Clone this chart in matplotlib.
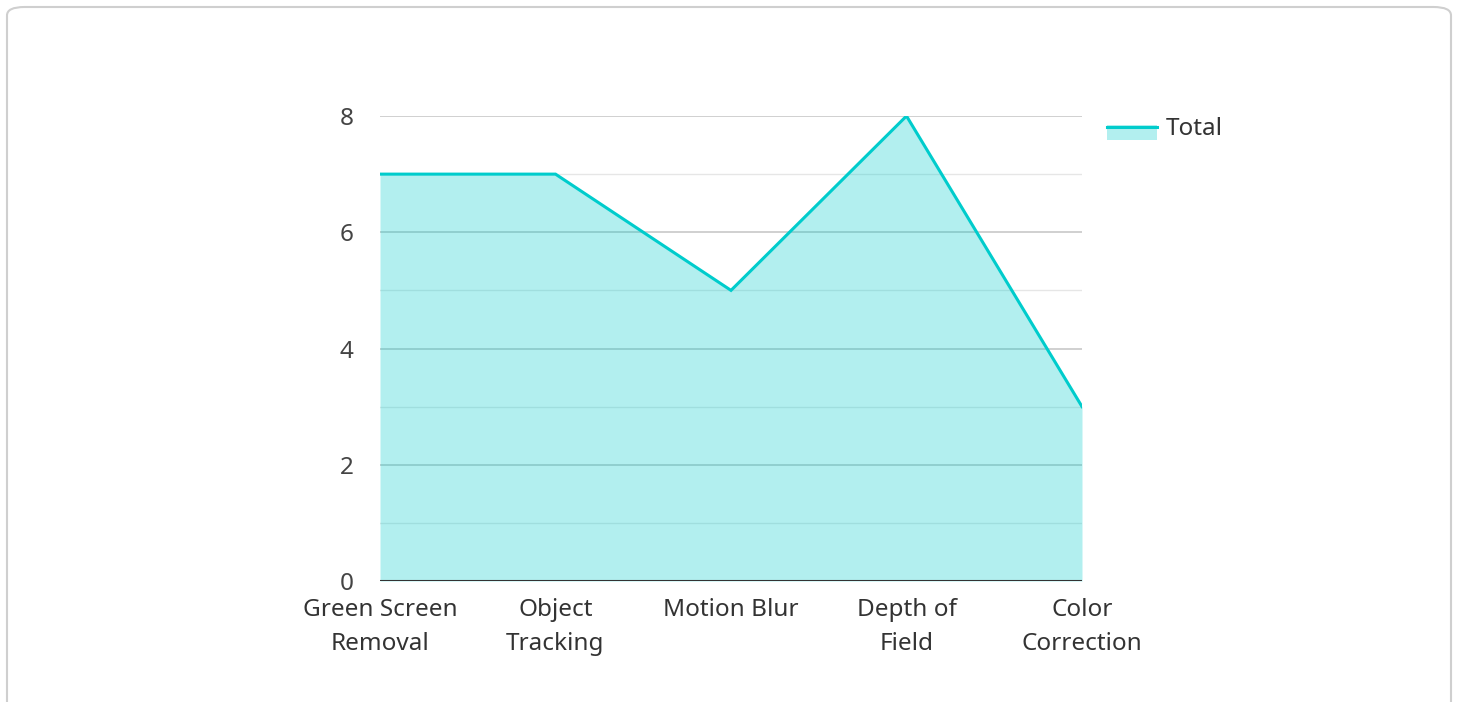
import matplotlib
matplotlib.use("Agg")
import matplotlib.pyplot as plt
from matplotlib.patches import FancyBboxPatch, Rectangle
from matplotlib.lines import Line2D

plt.rcParams['font.family'] = ['Noto Sans', 'DejaVu Sans']

categories = ["Green Screen\nRemoval", "Object\nTracking", "Motion Blur", "Depth of\nField", "Color\nCorrection"]
totals = [7, 7, 5, 8, 3]
series_name = "Total"

W, H = 1458, 702
fig = plt.figure(figsize=(W / 100, H / 100), dpi=100)

# rounded card border, behind everything
fig.add_artist(FancyBboxPatch((7 / W, -20 / H), 1444 / W, 715 / H,
                              boxstyle="round,pad=0,rounding_size=0.012",
                              transform=fig.transFigure, fc="white", ec="#cfcfcf", lw=1.5,
                              zorder=-10))

ax = fig.add_axes([380 / W, 121 / H, 702 / W, 465 / H])
ax.set_facecolor("none")
x = list(range(len(categories)))

for v in [1, 3, 5, 7]:
    ax.axhline(v, color="#e6e6e6", lw=1, zorder=1)
for v in [2, 4, 6, 8]:
    ax.axhline(v, color="#c8c8c8", lw=1.2, zorder=1)

ax.fill_between(x, totals, 0, color="#00cccc", alpha=0.3, lw=0, zorder=2)
ax.plot(x, totals, color="#00cccc", lw=2.2, zorder=3, solid_joinstyle="miter")
ax.axhline(0, color="#333333", lw=1.5, zorder=4)

ax.set_xlim(0, 4)
ax.set_ylim(0, 8)
ax.set_yticks([0, 2, 4, 6, 8])
ax.set_xticks(x)
ax.set_xticklabels(categories, fontsize=17.5, color="#333333", linespacing=1.55)
ax.tick_params(axis="y", labelsize=17.5, labelcolor="#444444", length=0, pad=19)
ax.tick_params(axis="x", length=0, pad=12)
for s in ax.spines.values():
    s.set_visible(False)

# legend
fig.add_artist(Rectangle((1107 / W, (H - 140) / H), 50 / W, 15 / H,
                         transform=fig.transFigure, fc="#00cccc", alpha=0.3, lw=0))
fig.add_artist(Line2D([1107 / W, 1157 / W], [(H - 126.5) / H] * 2,
                      transform=fig.transFigure, color="#00cccc", lw=2.2))
fig.text(1166 / W, (H - 129) / H, series_name, fontsize=17.5, color="#333333", va="center")

fig.savefig("out.png", dpi=100)
